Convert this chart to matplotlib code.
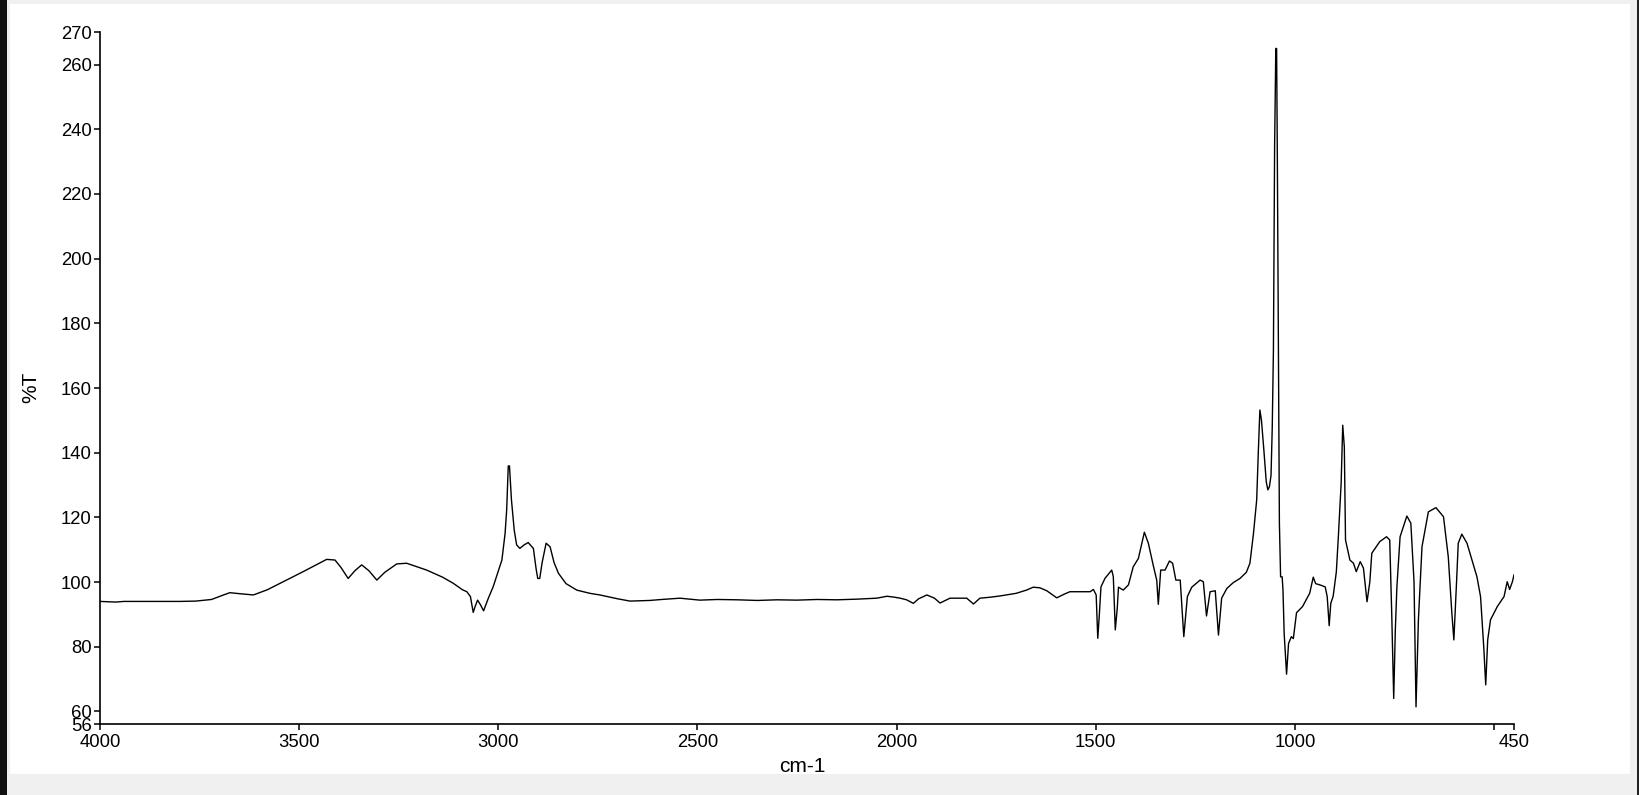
import matplotlib
matplotlib.use("Agg")
import matplotlib.pyplot as plt
from matplotlib.patches import Rectangle

plt.rcParams['font.family'] = ['Liberation Sans', 'DejaVu Sans']

# ---- data ----
wavenumber = [
    4000, 3960, 3940, 3900, 3850, 3800, 3760, 3720, 3690, 3674, 3650, 3615, 3580, 3540,
    3490, 3450, 3431, 3410, 3395, 3377, 3360, 3343, 3325, 3305, 3285, 3255, 3230, 3180,
    3140, 3113, 3090, 3079, 3070, 3063, 3058, 3052, 3045, 3037, 3025, 3013, 2991, 2983,
    2979, 2975, 2972, 2967, 2960, 2954, 2946, 2935, 2925, 2912, 2905, 2901, 2896, 2890,
    2880, 2870, 2860, 2849, 2830, 2803, 2770, 2745, 2700, 2669, 2620, 2590, 2544, 2494,
    2450, 2400, 2350, 2300, 2250, 2200, 2150, 2100, 2050, 2024, 2005, 1991, 1975, 1958,
    1945, 1924, 1905, 1891, 1866, 1824, 1807, 1791, 1765, 1740, 1700, 1674, 1657, 1640,
    1623, 1598, 1580, 1565, 1514, 1506, 1499, 1495, 1491, 1487, 1477, 1460, 1456, 1451,
    1446, 1443, 1431, 1418, 1406, 1393, 1378, 1368, 1356, 1347, 1343, 1337, 1326, 1315,
    1307, 1299, 1288, 1279, 1270, 1259, 1238, 1230, 1222, 1213, 1200, 1192, 1184, 1171,
    1155, 1138, 1122, 1113, 1104, 1096, 1092, 1088, 1084, 1078, 1072, 1068, 1064, 1060,
    1057, 1054, 1051, 1048, 1046, 1044, 1041, 1039, 1036, 1032, 1030, 1027, 1021, 1016,
    1009, 1004, 996, 981, 963, 954, 948, 937, 924, 919, 914, 910, 904, 896, 891, 884,
    880, 876, 873, 862, 853, 846, 836, 828, 819, 812, 807, 787, 770, 762, 757, 752, 748,
    744, 736, 719, 709, 701, 696, 692, 690, 681, 665, 646, 627, 615, 606, 601, 594, 590,
    581, 568, 543, 534, 526, 521, 516, 509, 492, 475, 467, 461, 454, 450,
]
transmittance = [
    94.0, 93.8, 94.0, 94.0, 94.0, 94.0, 94.1, 94.6, 96.0, 96.7, 96.4, 96.0, 97.6, 100.1,
    103.2, 105.8, 107.0, 106.8, 104.5, 101.1, 103.5, 105.3, 103.5, 100.6, 103.0, 105.6, 105.8, 103.7,
    101.5, 99.6, 97.6, 97.0, 95.5, 90.6, 92.5, 94.4, 93.0, 91.1, 95.0, 98.5, 106.8, 115.0,
    122.3, 135.9, 135.9, 125.4, 116.0, 111.5, 110.4, 111.5, 112.2, 110.4, 104.0, 101.1, 101.1, 106.0,
    112.0, 110.9, 106.0, 102.7, 99.5, 97.5, 96.5, 96.0, 94.8, 94.1, 94.3, 94.6, 95.0, 94.4,
    94.6, 94.5, 94.3, 94.5, 94.4, 94.6, 94.5, 94.7, 95.0, 95.6, 95.3, 95.0, 94.5, 93.4,
    94.8, 96.0, 95.0, 93.5, 95.0, 95.0, 93.2, 95.0, 95.3, 95.7, 96.5, 97.5, 98.4, 98.2,
    97.3, 95.1, 96.2, 97.0, 97.0, 97.7, 96.0, 82.6, 90.0, 98.5, 101.1, 103.7, 101.7, 85.2,
    92.0, 98.4, 97.5, 99.1, 104.7, 107.3, 115.4, 112.0, 105.3, 100.6, 93.1, 103.7, 103.7, 106.5,
    105.8, 100.6, 100.6, 83.1, 95.5, 98.4, 100.6, 100.1, 89.5, 97.0, 97.3, 83.6, 95.0, 98.0,
    99.8, 101.1, 103.0, 105.8, 115.1, 125.4, 140.0, 153.2, 150.0, 140.8, 131.0, 128.5, 129.5, 133.0,
    147.5, 171.7, 235.0, 265.0, 265.0, 228.0, 164.5, 118.2, 101.6, 101.6, 97.5, 84.0, 71.5, 81.0,
    83.1, 82.5, 90.5, 92.4, 96.5, 101.5, 99.5, 99.1, 98.5, 95.5, 86.5, 93.4, 95.6, 103.2, 114.0, 130.5,
    148.5, 141.8, 113.0, 106.8, 105.8, 103.2, 106.3, 104.3, 93.9, 100.0, 108.9, 112.5, 114.0, 113.0, 90.3, 64.0, 85.0,
    98.5, 114.0, 120.4, 118.2, 100.1, 61.4, 80.0, 88.3, 110.9, 121.7, 123.0, 120.2, 107.8, 90.3, 82.1, 100.6, 112.0,
    114.8, 112.0, 101.6, 95.5, 80.0, 68.2, 82.1, 88.3, 92.4, 95.5, 100.1, 97.7, 100.1, 102.2,
]

y_ticks = [56, 60, 80, 100, 120, 140, 160, 180, 200, 220, 240, 260, 270]
x_ticks = [4000, 3500, 3000, 2500, 2000, 1500, 1000, 500, 450]
x_tick_labels = ['4000', '3500', '3000', '2500', '2000', '1500', '1000', '', '450']

W, H = 1640, 795
fig = plt.figure(figsize=(W / 100, H / 100), dpi=100)
fig.patch.set_facecolor('#f0f0f0')

def px_rect(x0, y0, x1, y1, color):
    fig.add_artist(Rectangle((x0 / W, 1 - y1 / H), (x1 - x0) / W, (y1 - y0) / H,
                             transform=fig.transFigure, facecolor=color,
                             edgecolor='none', zorder=-10))

# screenshot-like frame
px_rect(10, 4, 1630, 774, 'white')
px_rect(0, 0, 7, H, '#111111')
px_rect(1637, 0, W, H, '#222222')

left, right = 100, 1514
top, bottom = 32.3, 724.3
ax = fig.add_axes([left / W, 1 - bottom / H, (right - left) / W, (bottom - top) / H])
ax.set_facecolor('none')

ax.plot(wavenumber, transmittance, color='black', linewidth=1.0)

ax.set_xlim(4000, 450)
ax.set_ylim(56, 270)
ax.set_xticks(x_ticks)
ax.set_xticklabels(x_tick_labels)
ax.set_yticks(y_ticks)

for s in ['top', 'right']:
    ax.spines[s].set_visible(False)
for s in ['left', 'bottom']:
    ax.spines[s].set_linewidth(1.2)
    ax.spines[s].set_color('black')

ax.tick_params(axis='both', direction='out', length=4, width=1.1,
               labelsize=13.3, colors='black', pad=2)
ax.tick_params(axis='x', pad=3)

fig.text(31 / W, 1 - 387 / H, '%T', rotation=90, ha='center', va='center', fontsize=15)
fig.text(802 / W, 1 - 766 / H, 'cm-1', ha='center', va='center', fontsize=15)

fig.savefig('out.png', dpi=100, facecolor=fig.get_facecolor())
